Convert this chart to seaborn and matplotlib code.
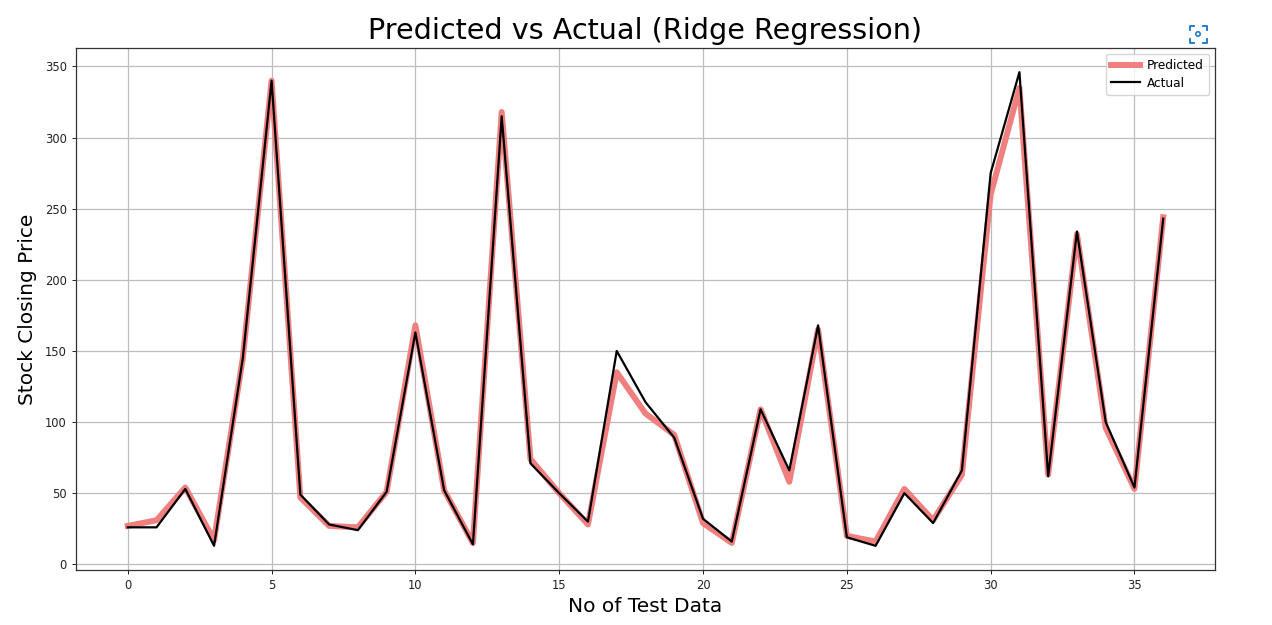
import matplotlib
matplotlib.use("Agg")
import matplotlib.pyplot as plt
from matplotlib.lines import Line2D
from matplotlib.patches import Circle
import pandas as pd
import seaborn as sns

# Values
test_index = list(range(37))
predicted = [27, 31, 54, 17, 145, 340, 47, 27, 26, 51, 168, 52, 15, 318, 74, 50, 28, 135, 106,
             91, 29, 15, 109, 58, 165, 20, 16, 53, 31, 63, 260, 335, 63, 232, 96, 53, 244]
actual = [26, 26, 53, 13, 145, 340, 49, 28, 24, 51, 163, 52, 14, 315, 71, 50, 30, 150, 114,
          89, 32, 16, 109, 66, 168, 19, 13, 50, 29, 66, 275, 346, 62, 234, 100, 54, 243]

df = pd.DataFrame({"index": test_index, "Predicted": predicted, "Actual": actual})

# Create the line chart
fig = plt.figure(figsize=(12.72, 6.25), dpi=100)
ax = fig.add_axes([76 / 1272, 1 - 570 / 625, (1215 - 76) / 1272, (570 - 48) / 625])

sns.lineplot(data=df, x="index", y="Predicted", color="#f08080", linewidth=4.3,
             label="Predicted", ax=ax)
sns.lineplot(data=df, x="index", y="Actual", color="black", linewidth=1.6,
             label="Actual", ax=ax)

# Add labels and title
ax.set_title("Predicted vs Actual (Ridge Regression)", fontsize=20.6, pad=6.5)
ax.set_xlabel("No of Test Data", fontsize=14.5, labelpad=3.7)
ax.set_ylabel("Stock Closing Price", fontsize=14.5, labelpad=5.5)

ax.set_xlim(-1.8, 37.8)
ax.set_ylim(-4, 363)
ax.set_xticks(range(0, 36, 5))
ax.set_yticks(range(0, 351, 50))
ax.tick_params(labelsize=8.3, length=3, width=0.7, colors="#222222")
ax.grid(True, color="#bdbdbd", linewidth=0.9)
ax.set_axisbelow(True)

for side in ax.spines.values():
    side.set_color("#333333")
    side.set_linewidth(0.9)

ax.legend(loc="upper right", fontsize=8.7, borderaxespad=0.5, handlelength=2.4,
          labelspacing=0.4, borderpad=0.4, handletextpad=0.6)

# Screenshot icon above the top right corner
blue = "#1473cc"
cx, cy, half, arm = 1198, 34, 8.5, 4
W, H = 1272, 625
for sx in (-1, 1):
    for sy in (-1, 1):
        xs = [cx + sx * (half - arm), cx + sx * half, cx + sx * half]
        ys = [cy + sy * half, cy + sy * half, cy + sy * (half - arm)]
        fig.add_artist(Line2D([x / W for x in xs], [1 - y / H for y in ys], color=blue,
                              linewidth=1.3, transform=fig.transFigure))
fig.add_artist(Circle((cx, H - cy), 2.2, fill=False, edgecolor=blue, linewidth=1.1,
                      transform=None))

plt.savefig("out.png", dpi=100)
